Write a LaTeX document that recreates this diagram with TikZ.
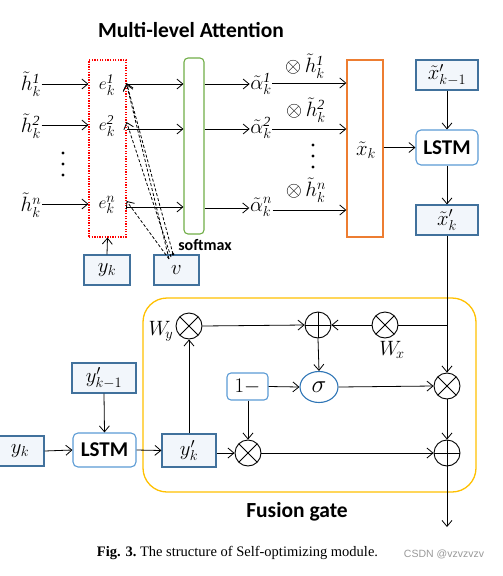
\documentclass[tikz,border=0pt]{standalone}
\usepackage{fontspec}
\setmainfont{Liberation Serif}
\newfontfamily\carlito{Carlito}
\newfontfamily\wmfont{Liberation Sans}
\usetikzlibrary{arrows.meta,shapes.geometric}
\definecolor{boxblue}{HTML}{41719C}
\definecolor{boxfill}{HTML}{F2F6FB}
\definecolor{lightblue}{HTML}{5B9BD5}
\definecolor{sigblue}{HTML}{2E75B6}
\definecolor{attgreen}{HTML}{70AD47}
\definecolor{attorange}{HTML}{ED7D31}
\definecolor{gateyellow}{HTML}{FFC000}
\definecolor{dotred}{HTML}{FF0000}
\tikzset{
  arr/.style={-{Straight Barb[length=6pt,width=10pt]}, line width=0.8pt},
  dasharr/.style={arr, dashed, dash pattern=on 3pt off 2pt},
  plain/.style={line width=0.8pt},
  valbox/.style={draw=boxblue, fill=boxfill, line width=1.1pt, minimum width=62pt, minimum height=30pt, inner sep=0pt, font=\fontsize{20}{22}\selectfont},
  lstmbox/.style={draw=lightblue, fill=white, rounded corners=5pt, line width=1.1pt, minimum width=62pt, minimum height=35pt, inner sep=0pt, font=\carlito\bfseries\fontsize{21}{23}\selectfont},
  opmul/.style={circle, draw, line width=0.9pt, minimum size=26pt, inner sep=0pt,
    path picture={\draw[line width=0.9pt] (path picture bounding box.north west) -- (path picture bounding box.south east)
      (path picture bounding box.north east) -- (path picture bounding box.south west);}},
  opadd/.style={circle, draw, line width=0.9pt, minimum size=26pt, inner sep=0pt,
    path picture={\draw[line width=0.9pt] (path picture bounding box.north) -- (path picture bounding box.south)
      (path picture bounding box.east) -- (path picture bounding box.west);}},
  mlabel/.style={inner sep=0.5pt, font=\fontsize{20}{22}\selectfont},
  heading/.style={font=\carlito\bfseries\fontsize{21.5}{24}\selectfont}
}
\begin{document}
\begin{tikzpicture}[x=1pt,y=-1pt]
\useasboundingbox (0,0) rectangle (503,576);
% ---------- top: multi-level attention ----------
\node[heading] (title) at (191,30) {Multi-level Attention};
\node[mlabel] (h1) at (31,84) {$\tilde{h}_k^{\mathit{1}}$};
\node[mlabel] (h2) at (31,126) {$\tilde{h}_k^{\mathit{2}}$};
\node[mlabel] (hn) at (31,205) {$\tilde{h}_k^{n}$};
\foreach \yy in {153,164,175} \fill (63,\yy) circle (1.7pt);
\node[draw=dotred, dash pattern=on 1.3pt off 1.3pt, line width=1.1pt, minimum width=37pt, minimum height=177pt, inner sep=0pt] (ebox) at (107.5,148.5) {};
\node[mlabel,font=\fontsize{19}{21}\selectfont] (e1) at (107,85) {$e_k^{\mathit{1}}$};
\node[mlabel,font=\fontsize{19}{21}\selectfont] (e2) at (107,126) {$e_k^{\mathit{2}}$};
\node[mlabel,font=\fontsize{19}{21}\selectfont] (en) at (107,205) {$e_k^{n}$};
\node[draw=attgreen, rounded corners=4pt, line width=1.1pt, minimum width=20pt, minimum height=176pt, inner sep=0pt] (soft) at (194,146) {};
\node[draw=attorange, line width=1.3pt, minimum width=36pt, minimum height=177pt, inner sep=0pt] (xbox) at (365,148.5) {};
\node[mlabel] (xk) at (366,150) {$\tilde{x}_k$};
\node[mlabel] (a1) at (261,84) {$\tilde{\alpha}_k^{\mathit{1}}$};
\node[mlabel] (a2) at (261,128) {$\tilde{\alpha}_k^{\mathit{2}}$};
\node[mlabel] (an) at (261,207) {$\tilde{\alpha}_k^{n}$};
\node[mlabel] (m1) at (305,66) {$\otimes\,\tilde{h}_k^{\mathit{1}}$};
\node[mlabel] (m2) at (306,110) {$\otimes\,\tilde{h}_k^{\mathit{2}}$};
\node[mlabel] (mn) at (306,190) {$\otimes\,\tilde{h}_k^{n}$};
\foreach \yy in {145,156,167} \fill (313,\yy) circle (1.7pt);
\node[valbox, minimum width=46pt] (yk) at (107,270) {$y_k$};
\node[valbox, minimum width=45pt] (v) at (176.5,270) {$v$};
\node[font=\carlito\bfseries\fontsize{16}{18}\selectfont, inner sep=0pt] (smx) at (205,245) {softmax};
\coordinate (vtop) at (173,254);
\fill (vtop) circle (1.5pt);
% arrows
\draw[arr] (h1.east |- 0,84) -- (ebox.west |- 0,84);
\draw[arr] (h2.east |- 0,125) -- (ebox.west |- 0,125);
\draw[arr] (hn.east |- 0,204) -- (ebox.west |- 0,204);
\draw[arr] (yk.north) -- (ebox.south);
\draw[arr] (ebox.east |- 0,84) -- (soft.west |- 0,84);
\draw[arr] (ebox.east |- 0,129) -- (soft.west |- 0,129);
\draw[arr] (ebox.east |- 0,207) -- (soft.west |- 0,207);
\draw[dasharr] (vtop) -- ([yshift=2pt]ebox.east |- e1);
\draw[dasharr] ([xshift=-4pt,yshift=-5pt]vtop) -- ([yshift=1pt]ebox.east |- e1);
\draw[dasharr] ([xshift=-2pt,yshift=-3pt]vtop) -- ([yshift=4pt]ebox.east |- e2);
\draw[dasharr] ([xshift=-4pt,yshift=-5pt]vtop) -- ([yshift=4pt]ebox.east |- en);
\draw[arr] (soft.east |- 0,84) -- (a1.west |- 0,84);
\draw[arr] (soft.east |- 0,129) -- (a2.west |- 0,129);
\draw[arr] (soft.east |- 0,208) -- (an.west |- 0,208);
\draw[arr] (a1.east |- 0,83) -- (xbox.west |- 0,83);
\draw[arr] (a2.east |- 0,129) -- (xbox.west |- 0,129);
\draw[arr] (an.east |- 0,210) -- (xbox.west |- 0,210);
% right column
\node[valbox] (xkm1) at (447,75) {$\tilde{x}'_{k-1}$};
\node[lstmbox] (lstmT) at (447,147.5) {LSTM};
\node[valbox] (xkp) at (447,220) {$\tilde{x}'_k$};
\draw[arr] (xbox.east |- lstmT) -- (lstmT.west);
\draw[arr] (xkm1.south) -- (lstmT.north);
\draw[arr] (lstmT.south) -- (xkp.north);
% ---------- bottom: fusion gate ----------
\node[draw=gateyellow, rounded corners=24pt, line width=1.3pt, minimum width=333pt, minimum height=194pt, inner sep=0pt] (gate) at (309.5,395) {};
\node[heading] (gatelbl) at (297,512) {Fusion gate};
\node[valbox, minimum width=48pt] (yk2) at (20,451) {$y_k$};
\node[valbox, minimum width=64pt] (ykm1) at (104,378) {$y'_{k-1}$};
\node[lstmbox, minimum width=63pt, minimum height=34pt] (lstmB) at (104.5,450) {LSTM};
\node[valbox, minimum width=54pt, minimum height=33pt] (ykp) at (189,450.5) {$y'_k$};
\node[opmul] (mulWy) at (189,326) {};
\node[mlabel] (Wy) at (161,331) {$W_{\!y}$};
\node[opadd] (addT) at (318,325) {};
\node[opmul] (mulWx) at (385,325) {};
\node[mlabel] (Wx) at (392,350) {$W_{\!x}$};
\node[ellipse, draw=sigblue, fill=white, line width=1.1pt, minimum width=38pt, minimum height=31pt, inner sep=0pt, font=\fontsize{27}{29}\selectfont] (sig) at (319,387) {$\sigma$};
\node[draw=lightblue, fill=white, rounded corners=4pt, line width=1.1pt, minimum width=41pt, minimum height=27pt, inner sep=0pt, font=\fontsize{22}{24}\selectfont] (onem) at (247.5,386.5) {$1-$};
\node[opmul] (mulB) at (248,453) {};
\node[opmul] (mulR) at (447,386) {};
\node[opadd] (addR) at (447,453) {};
\coordinate (out) at (447,527);
% bottom connectors
\draw[arr] (yk2.east) -- (lstmB.west);
\draw[arr] (ykm1.south) -- (lstmB.north);
\draw[arr] (lstmB.east) -- (ykp.west);
\draw[arr] (mulWy.south |- ykp.north) -- (mulWy.south);
\draw[arr] (ykp.east |- mulB) -- (mulB.west);
\draw[arr] (mulB.north |- onem.south) -- (mulB.north);
\draw[arr] (mulWy.east) -- (addT.west);
\draw[arr] (mulWx.west) -- (addT.east);
\draw[plain] (mulWx.east) -- (mulWx.east -| xkp.south);
\draw[arr] (addT.south) -- (sig.north);
\draw[arr] (onem.east) -- (sig.west);
\draw[arr] (sig.east) -- (mulR.west);
\draw[arr] (mulB.east) -- (addR.west);
\draw[arr] (xkp.south) -- (mulR.north);
\draw[arr] (mulR.south) -- (addR.north);
\draw[arr] (addR.south) -- (out);
% caption
\node[inner sep=0pt, font=\fontsize{14.5}{16}\selectfont] (cap) at (237.5,553) {\textbf{Fig. 3.}\ The structure of Self-optimizing module.};
\node[inner sep=0pt, text=gray!80, font=\wmfont\fontsize{10.5}{12}\selectfont] (wm) at (444,554) {CSDN @vzvzvzv};
\end{tikzpicture}
\end{document}
